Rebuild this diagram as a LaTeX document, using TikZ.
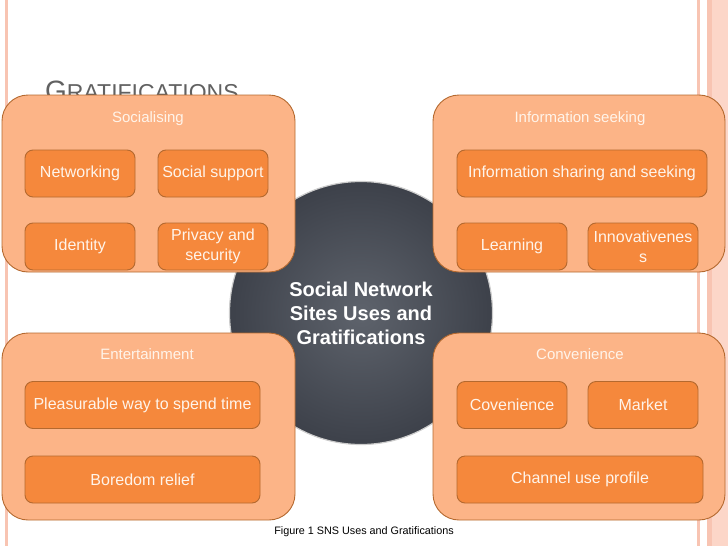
\documentclass[tikz,border=0pt]{standalone}
\usepackage{fontspec}
\setmainfont{Liberation Sans}
\usepackage{xcolor}
\usetikzlibrary{positioning, calc}
\definecolor{peach}{HTML}{FCB487}
\definecolor{orng}{HTML}{F5883C}
\definecolor{rim}{HTML}{B4692F}
\definecolor{cream}{HTML}{FFF4EA}
\definecolor{pinkln}{HTML}{F8C4B2}
\definecolor{pinkbg}{HTML}{FCD6C8}
\definecolor{hubin}{HTML}{5E636C}
\definecolor{hubout}{HTML}{3D414A}

\begin{document}
\begin{tikzpicture}[x=1pt, y=-1pt]
        \tikzstyle{grp} = [rectangle, rounded corners=26pt, draw=rim, fill=peach, line width=0.9pt, minimum width=293pt]
        \tikzstyle{ttl} = [text=cream, font=\fontsize{15}{18}\selectfont]
        \tikzstyle{itm} = [rectangle, rounded corners=8pt, draw=rim, fill=orng, line width=0.9pt, minimum width=110pt, minimum height=47pt, text=cream, align=center, inner sep=2pt, font=\fontsize{16}{20}\selectfont]
        \useasboundingbox (0,0) rectangle (728,546);

        % page decoration
        \fill [pinkln] (5,0) rectangle (7.5,546);
        \fill [pinkln] (697,0) rectangle (700,546);
        \fill [pinkln] (707,0) rectangle (712,546);
        \fill [pinkbg] (712,0) rectangle (728,546);

        \node (head) [anchor=base west, text=black!62, inner sep=0pt] at (45,100) {\fontsize{28}{28}\selectfont G\fontsize{23}{23}\selectfont RATIFICATIONS};

        % centre
        \node (hub) [circle, minimum size=263pt, inner color=hubin, outer color=hubout, draw=black!20, line width=1.2pt, text=white, align=center, font=\bfseries\fontsize{20}{24}\selectfont] at (361,313) {Social Network\\Sites Uses and\\Gratifications};

        % Socialising
        \node (soc) [grp, minimum height=177pt] at (148.5,183.5) {};
        \node (soclab) [ttl] at (148,119) {Socialising};
        \node (netw) [itm] at (80,173.5) {Networking};
        \node (supp) [itm] at (213,173.5) {Social support};
        \node (iden) [itm] at (80,246.5) {Identity};
        \node (priv) [itm] at (213,246.5) {Privacy and\\security};

        % Information seeking
        \node (inf) [grp, minimum width=292pt, minimum height=177pt] at (579,183.5) {};
        \node (inflab) [ttl] at (580,119) {Information seeking};
        \node (shar) [itm, minimum width=250pt] at (582,173.5) {Information sharing and seeking};
        \node (lern) [itm] at (512,246.5) {Learning};
        \node (innv) [itm] at (643,246.5) {Innovativenes\\s};

        % Entertainment
        \node (ent) [grp, minimum height=187pt] at (148.5,426.5) {};
        \node (entlab) [ttl] at (147,354) {Entertainment};
        \node (plea) [itm, minimum width=235pt] at (142.5,405) {Pleasurable way to spend time};
        \node (bore) [itm, minimum width=235pt] at (142.5,479.5) {Boredom relief};

        % Convenience
        \node (con) [grp, minimum width=292pt, minimum height=187pt] at (579,426.5) {};
        \node (conlab) [ttl] at (580,354) {Convenience};
        \node (covn) [itm] at (512,405) {Covenience};
        \node (mark) [itm] at (643,405) {Market};
        \node (chan) [itm, minimum width=246pt] at (580,479.5) {Channel use profile};

        \node (cap) [font=\fontsize{10.8}{13}\selectfont] at (364,532) {Figure 1 SNS Uses and Gratifications};
    \end{tikzpicture}
\end{document}
